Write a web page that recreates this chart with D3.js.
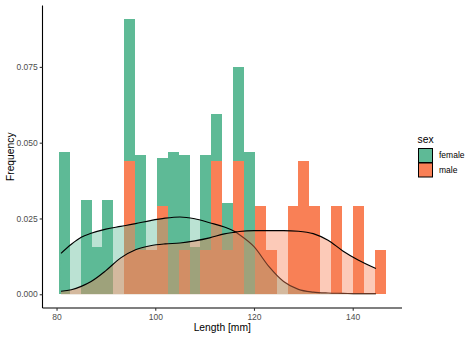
<!DOCTYPE html>
<html><head><meta charset="utf-8">
<script src="https://cdn.jsdelivr.net/npm/d3@7"></script>
<style>body{margin:0;background:#fff}svg{display:block}text{font-family:"Liberation Sans",Arial,sans-serif}</style>
</head><body><svg id="c" width="474" height="338"></svg>
<script>
// ---- data ----
const sexes = ["female", "male"];
const colors = ["#5eba96", "#f98056"];
const binMid = [81.57,83.78,85.98,88.19,90.40,92.61,94.81,97.02,99.23,101.43,103.64,105.85,108.05,110.26,112.47,114.68,116.88,119.09,121.30,123.50,125.71,127.92,130.12,132.33,134.54,136.75,138.95,141.16,143.37,145.57];
const binWidth = 2.207;
const femaleCount = [3,0,2,1,2,0,3,2,0,1,3,2,1,2,1,1,2,3,0,0,0,0,0,0,0,0,0,0,0,0];
const maleCount   = [0,0,0,0,0,0,3,1,1,2,0,1,0,1,3,1,3,0,2,1,0,2,3,2,0,2,0,2,0,1];
const densX      = [80.9,83,85,87,90,93,96,99,102,105,108,111,114,116.2,117,120,123,126,129,132,135,138,141,144.7];
const femaleDens = [0.0135,0.0165,0.0188,0.0201,0.0215,0.0224,0.0233,0.0243,0.0251,0.0255,0.0249,0.0236,0.0222,0.0206,0.0197,0.0157,0.0092,0.0042,0.0016,0.0007,0.0004,0.0003,0.0002,0.0002];
const maleDens   = [0.0010,0.0015,0.0026,0.0042,0.0078,0.0120,0.0147,0.0160,0.0166,0.0169,0.0176,0.0186,0.0199,0.0205,0.0207,0.0210,0.0210,0.0210,0.0208,0.0200,0.0178,0.0143,0.0114,0.0085];
const xTicks = [80,100,120,140];
const yTicks = [0,0.025,0.05,0.075];

// ---- layout ----
const svg = d3.select("#c");
const P = {l:42.5, r:402, t:5.5, b:308};
const nF = d3.sum(femaleCount), nM = d3.sum(maleCount);
const bins = binMid.map((m,i)=>{
  const dm = maleCount[i]/(nM*binWidth), df = femaleCount[i]/(nF*binWidth);
  return {x0:m-binWidth/2, x1:m+binWidth/2, m:dm, f:df};
});
const xmin = bins[0].x0, xmax = bins[bins.length-1].x1;
const xpad = (xmax-xmin)*0.05;
const x = d3.scaleLinear().domain([xmin-xpad, xmax+xpad]).range([P.l, P.r]);
const ymaxv = d3.max(bins, d=>d.m+d.f);
const y = d3.scaleLinear().domain([-ymaxv*0.05, ymaxv*1.05]).range([P.b, P.t]);

// bars: stacked, male at bottom, female on top
const g = svg.append("g");
const bg = g.append("g").attr("shape-rendering","crispEdges");
bg.selectAll("rect.m").data(bins.filter(d=>d.m>0)).join("rect")
  .attr("x", d=>x(d.x0)).attr("width", d=>x(d.x1)-x(d.x0))
  .attr("y", d=>y(d.m)).attr("height", d=>y(0)-y(d.m)).attr("fill", colors[1]);
bg.selectAll("rect.f").data(bins.filter(d=>d.f>0)).join("rect")
  .attr("x", d=>x(d.x0)).attr("width", d=>x(d.x1)-x(d.x0))
  .attr("y", d=>y(d.m+d.f)).attr("height", d=>y(d.m)-y(d.m+d.f)).attr("fill", colors[0]);

// densities
[femaleDens, maleDens].forEach((arr,k)=>{
  const pts = densX.map((v,i)=>[v, arr[i]]);
  const area = d3.area().x(d=>x(d[0])).y0(y(0)).y1(d=>y(d[1])).curve(d3.curveMonotoneX);
  const line = d3.line().x(d=>x(d[0])).y(d=>y(d[1])).curve(d3.curveMonotoneX);
  g.append("path").attr("d", area(pts)).attr("fill", colors[k]).attr("fill-opacity", 0.42);
  g.append("path").attr("d", line(pts)).attr("fill","none").attr("stroke","#000").attr("stroke-width",1.15);
});

// axes
const xa = svg.append("g").attr("transform", `translate(0,${P.b})`)
  .call(d3.axisBottom(x).tickValues(xTicks).tickSize(2.8).tickPadding(3).tickFormat(d3.format("d")));
const ya = svg.append("g").attr("transform", `translate(${P.l},0)`)
  .call(d3.axisLeft(y).tickValues(yTicks).tickSize(2.8).tickPadding(2).tickFormat(d3.format(".3f")));
[xa, ya].forEach(a=>{
  a.select(".domain").attr("stroke","#000").attr("stroke-width",1.1);
  a.selectAll(".tick line").attr("stroke","#333").attr("stroke-width",1.1);
  a.selectAll(".tick text").attr("fill","#4d4d4d").attr("font-size","8.5px");
});
xa.select(".domain").attr("d", `M${P.l},0H${P.r}`);
ya.select(".domain").attr("d", `M0,${P.b}V${P.t}`);

// axis titles
svg.append("text").attr("x",(P.l+P.r)/2).attr("y",331).attr("text-anchor","middle")
  .attr("font-size","10.3px").attr("fill","#000").text("Length [mm]");
svg.append("text").attr("transform",`translate(13.5,${(P.t+P.b)/2}) rotate(-90)`).attr("text-anchor","middle")
  .attr("font-size","10.3px").attr("fill","#000").text("Frequency");

// legend
const lg = svg.append("g");
lg.append("text").attr("x",417.5).attr("y",143).attr("font-size","10.3px").attr("fill","#000").text("sex");
sexes.forEach((s,i)=>{
  const yy = 148.5 + i*14.5;
  lg.append("rect").attr("x",418.5).attr("y",yy).attr("width",14).attr("height",14)
    .attr("fill",colors[i]).attr("stroke","#000").attr("stroke-width",1);
  lg.append("text").attr("x",439).attr("y",yy+7).attr("dy","0.35em").attr("font-size","8.5px").attr("fill","#000").text(s);
});
</script></body></html>
